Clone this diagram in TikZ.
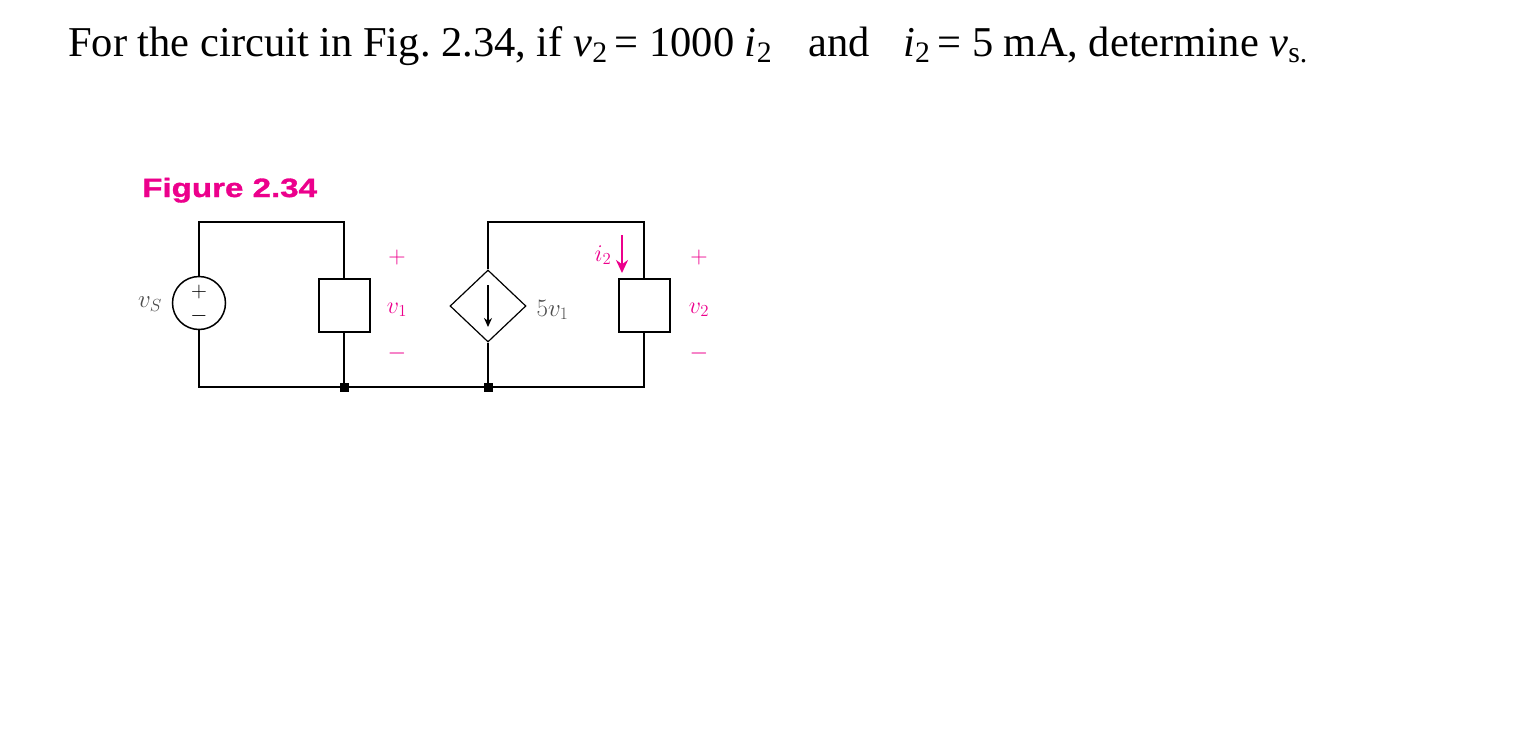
\RequirePackage{fix-cm}
\documentclass[tikz,border=0pt]{standalone}
\usepackage{fontspec}
\setmainfont{Liberation Serif}
\newfontfamily\figfont[FakeStretch=1.25,FakeBold=1.2]{Liberation Sans Bold}
\usepackage{xcolor}
\usetikzlibrary{shapes.geometric,arrows.meta}
\definecolor{figpink}{RGB}{236,0,140}
\tikzset{
  wire/.style={line width=2pt},
  resbox/.style={draw,line width=2pt,rectangle,minimum width=51pt,minimum height=53pt,inner sep=0pt},
  pinklbl/.style={text=figpink,font=\fontsize{24}{26}\selectfont},
  graylbl/.style={text=black!70,font=\fontsize{25}{27}\selectfont},
  dot/.style={fill,rectangle,minimum size=9pt,inner sep=0pt}
}
\begin{document}
\begin{tikzpicture}[x=1pt,y=-1pt]
\useasboundingbox (0,0) rectangle (1527,742);
\node[anchor=base west,inner sep=0pt,font=\fontsize{42.5}{46}\selectfont] (q1) at (68,56)
{For the circuit in Fig.\ 2.34, if \textit{v}\textsubscript{2}\,= 1000 \textit{i}\textsubscript{2}};
\node[anchor=base west,inner sep=0pt,font=\fontsize{42.5}{46}\selectfont] (q2) at (808,56) {and};
\node[anchor=base west,inner sep=0pt,font=\fontsize{42.5}{46}\selectfont] (q3) at (903,56)
{\textit{i}\textsubscript{2}\,= 5 mA, determine \textit{v}\textsubscript{s.}};
\node[anchor=base west,inner sep=0pt,text=figpink,font=\figfont\fontsize{26.5}{28}\selectfont] (fig) at (142,197) {Figure 2.34};
\node[draw,circle,line width=1.5pt,minimum size=53pt,inner sep=0pt] (vs) at (199,303) {};
\node[font=\fontsize{22}{24}\selectfont] (vsp) at (199,292) {$+$};
\node[font=\fontsize{22}{24}\selectfont] (vsm) at (199,316) {$-$};
\node[graylbl] (vsl) at (150,304) {$v_S$};
\node[resbox] (r1) at (344,305.5) {};
\node[draw,diamond,line width=1.2pt,minimum width=76pt,minimum height=72pt,inner sep=0pt] (dep) at (488,306) {};
\node[resbox] (r2) at (644,305.5) {};
\coordinate (t1) at (344,222);
\coordinate (t2) at (488,222);
\coordinate (t3) at (644,222);
\coordinate (b1) at (344,387);
\coordinate (b2) at (488,387);
\draw[wire] (vs.north) |- (t1) -- (r1.north);
\draw[wire] (vs.south) |- (b1) -- (r1.south);
\draw[wire] (b1) -- (b2);
\draw[wire] (dep.north) -- (t2) -- (t3) -- (r2.north);
\draw[wire] (dep.south) -- (b2) -| (r2.south);
\node[dot] (d1) at (b1) {};
\node[dot] (d2) at (b2) {};
\coordinate (a1) at (488,285);
\coordinate (a2) at (488,327);
\draw[line width=1.5pt,-{Stealth[length=9pt,width=8pt]}] (a1) -- (a2);
\node[graylbl,anchor=west] (gain) at (533,310) {$5v_1$};
\node[pinklbl] (p1) at (397,257) {$+$};
\node[pinklbl] (v1) at (397,310) {$v_1$};
\node[pinklbl] (m1) at (397,353) {$-$};
\node[pinklbl] (p2) at (699,257) {$+$};
\node[pinklbl] (v2) at (699,310) {$v_2$};
\node[pinklbl] (m2) at (699,353) {$-$};
\node[pinklbl] (i2) at (603,255) {$i_2$};
\coordinate (c1) at (622,235);
\coordinate (c2) at (622,273);
\draw[figpink,line width=2.5pt,-{Stealth[length=13pt,width=12pt]}] (c1) -- (c2);
\end{tikzpicture}
\end{document}
